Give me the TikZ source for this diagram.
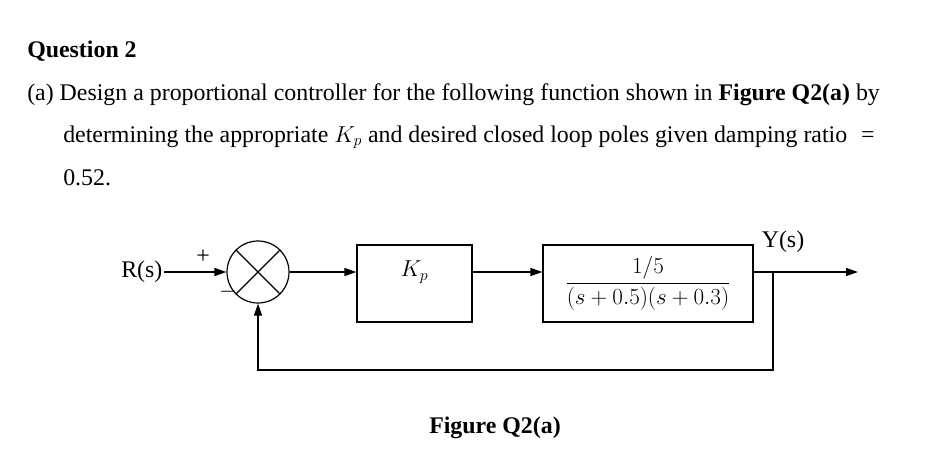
\documentclass[tikz,border=0pt]{standalone}
\usepackage{amsmath}
\usepackage{fontspec}
\setmainfont{Liberation Serif}
\usetikzlibrary{arrows.meta}
\begin{document}
\begin{tikzpicture}[x=0.75pt,y=-0.75pt,
  every node/.style={font=\fontsize{17.9}{21}\selectfont},
  blk/.style={draw,line width=0.9pt,minimum width=115*0.75pt,minimum height=77*0.75pt,inner sep=0pt},
  ln/.style={line width=0.9pt},
  arr/.style={ln,-{Triangle[length=9pt,width=6pt]}}]
\useasboundingbox (0,0) rectangle (949,454);
\node[anchor=base west,inner sep=0pt,font=\fontsize{17.9}{21}\selectfont\bfseries] (q) at (27,57) {Question 2};
\node[anchor=base west,inner sep=0pt] (l1) at (27,100) {(a) Design a proportional controller for the following function shown in \textbf{Figure Q2(a)} by};
\node[anchor=base west,inner sep=0pt] (l2) at (63,142) {determining the appropriate $K_p$ and desired closed loop poles given damping ratio\,\, =};
\node[anchor=base west,inner sep=0pt] (l3) at (63,185) {0.52.};
\node[draw,circle,ln,minimum size=62*0.75pt,inner sep=0pt] (s) at (258,272) {};
\draw[ln] (s.45)--(s.225) (s.135)--(s.315);
\node[anchor=east,inner sep=1pt] (r) at (164,272) {R(s)};
\node (plus) at (203,257) {+};
\node (minus) at (228,292) {$-$};
\node[blk] (k) at (414.5,283.5) {};
\node (kl) at (414.5,272) {$K_p$};
\node[blk,minimum width=210*0.75pt] (g) at (648,283.5) {$\dfrac{1/5}{(s+0.5)(s+0.3)}$};
\coordinate (o) at (858,272);
\coordinate (b) at (773,272);
\coordinate (b1) at (773,370);
\coordinate (b2) at (258,370);
\node (y) at (783,242) {Y(s)};
\draw[arr] (r.east)--(s.west);
\draw[arr] (s.east)--(k.west|-s);
\draw[arr] (k.east|-s)--(g.west|-s);
\draw[arr] (g.east|-s)--(o);
\draw[arr] (b)--(b1)--(b2)--(s.south);
\node[font=\fontsize{17.9}{21}\selectfont\bfseries] (f) at (495,428) {Figure Q2(a)};
\end{tikzpicture}
\end{document}
